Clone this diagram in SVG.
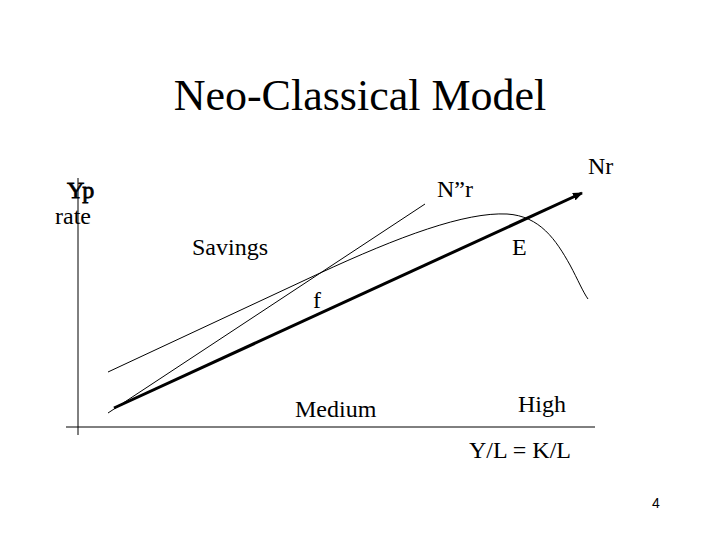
<svg xmlns="http://www.w3.org/2000/svg" width="720" height="540" viewBox="0 0 720 540">
<style>
text{font-family:"Liberation Serif","Times New Roman",serif;fill:#000}
.lbl{font-size:24px}
.thin{fill:none;stroke:#000;stroke-width:1}
</style>
<defs>
<marker id="ah" markerWidth="10" markerHeight="8" refX="9" refY="4" orient="auto" markerUnits="userSpaceOnUse">
<path d="M0,0 L10,4 L0,8 Z" fill="#000"/>
</marker>
</defs>
<rect width="720" height="540" fill="#fff"/>
<text x="360" y="110" font-size="44" text-anchor="middle">Neo-Classical Model</text>
<g id="axes">
<line class="thin" x1="78" y1="178" x2="78" y2="435"/>
<line class="thin" x1="66" y1="427" x2="595" y2="427"/>
</g>
<g id="connectors">
<line class="thin" x1="108" y1="413" x2="425" y2="204"/>
<path class="thin" d="M108,372 L318,274 C400,236 465,212 507,214 C540,216 556,240 570,265 C578,280 583,292 588,299"/>
<line x1="114" y1="408" x2="582" y2="193" stroke="#000" stroke-width="3" marker-end="url(#ah)"/>
</g>
<g id="labels">
<text class="lbl" x="67" y="198" stroke="#000" stroke-width="0.8">Yp</text>
<text class="lbl" x="55" y="224">rate</text>
<text class="lbl" x="437" y="197">N”r</text>
<text class="lbl" x="588" y="174">Nr</text>
<text class="lbl" x="512" y="255">E</text>
<text class="lbl" x="192" y="255">Savings</text>
<text class="lbl" x="313" y="308">f</text>
<text class="lbl" x="295" y="417">Medium</text>
<text class="lbl" x="518" y="412">High</text>
<text class="lbl" x="469" y="458">Y/L = K/L</text>
<text x="652" y="508" font-size="14" style="font-family:'Liberation Sans',Arial,sans-serif">4</text>
</g>
</svg>
